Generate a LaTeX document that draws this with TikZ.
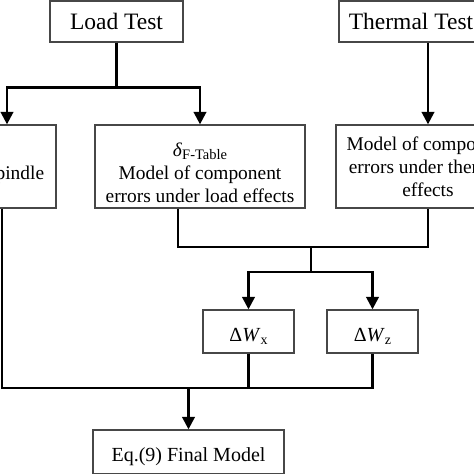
\documentclass[tikz,border=0pt]{standalone}
\usepackage{fontspec}
\setmainfont{Liberation Serif}
\usetikzlibrary{arrows.meta, positioning}

\tikzset{
  box/.style={draw=black!72, line width=1.3pt, fill=white, inner sep=0pt, align=center},
  line/.style={black, line width=2.5pt},
  conn/.style={line, -{Triangle[length=12.5pt, width=12.5pt]}},
  testfont/.style={font=\fontsize{23.5}{27}\selectfont},
  modelfont/.style={font=\fontsize{19.4}{22.8}\selectfont},
}

\begin{document}
\begin{tikzpicture}[x=1pt, y=1pt, on grid]
  \useasboundingbox (0,0) rectangle (474,-474);
  \clip (0,0) rectangle (474,-474);

  \node[box, testfont, minimum width=133pt, minimum height=41pt] (loadtest) at (116.5,-21.5) {Load Test};
  \node[box, testfont, minimum width=144pt, minimum height=41pt] (thermaltest) [right=294.5pt of loadtest] {Thermal Test};
  \node[box, modelfont, minimum width=83pt, minimum height=83pt] (spindle) [below left=145pt and 102pt of loadtest] {\rule{0pt}{31pt}Spindle};
  \node[box, modelfont, minimum width=210pt, minimum height=83pt] (loadmodel) [below right=145pt and 83.5pt of loadtest]
    {\rule{0pt}{26pt}\textit{δ}{\fontsize{14.5}{14.5}\selectfont\raisebox{-3pt}[0pt][0pt]{F-Table}}\\Model of component\\errors under load effects};
  \node[box, modelfont, minimum width=184pt, minimum height=83pt] (thermmodel) [below right=145pt and 17pt of thermaltest]
    {Model of component\\errors under thermal\\effects};
  \node[box, font=\fontsize{20}{24}\selectfont, minimum width=91pt, minimum height=43pt] (dwx) [below right=165pt and 48.5pt of loadmodel]
    {\rule{0pt}{22pt}Δ\textit{W}{\fontsize{14}{14}\selectfont\raisebox{-3pt}{x}}};
  \node[box, font=\fontsize{20}{24}\selectfont, minimum width=91pt, minimum height=43pt] (dwz) [right=124pt of dwx]
    {\rule{0pt}{22pt}Δ\textit{W}{\fontsize{14}{14}\selectfont\raisebox{-3pt}{z}}};
  \node[box, font=\fontsize{20}{24}\selectfont, minimum width=191pt, minimum height=44pt] (final) [below left=120.5pt and 60pt of dwx]
    {\rule{0pt}{24pt}Eq.(9) Final Model};

  \coordinate (merge) at (311,-247);
  \coordinate (fork) at (311,-272);
  \coordinate (collect) at (188.5,-388);

  % tests to models
  \draw[conn] (loadtest.south) -- ++(0,-45) -| ([xshift=-7.5pt]spindle.north);
  \draw[conn] (loadtest.south) -- ++(0,-45) -| (loadmodel.north);
  \draw[conn] ([xshift=17pt]thermaltest.south) -- (thermmodel.north);

  % models to W
  \draw[line] ([xshift=-22pt]loadmodel.south) |- (merge) -| (thermmodel.south);
  \draw[conn] (merge) -- (fork) -| (dwx.north);
  \draw[conn] (fork) -| (dwz.north);

  % all to final model
  \draw[line] ([xshift=-12.5pt]spindle.south) |- (collect) -| (dwz.south);
  \draw[line] (dwx.south) -- (dwx.south |- collect);
  \draw[conn] (collect) -- (final.north);
\end{tikzpicture}
\end{document}
